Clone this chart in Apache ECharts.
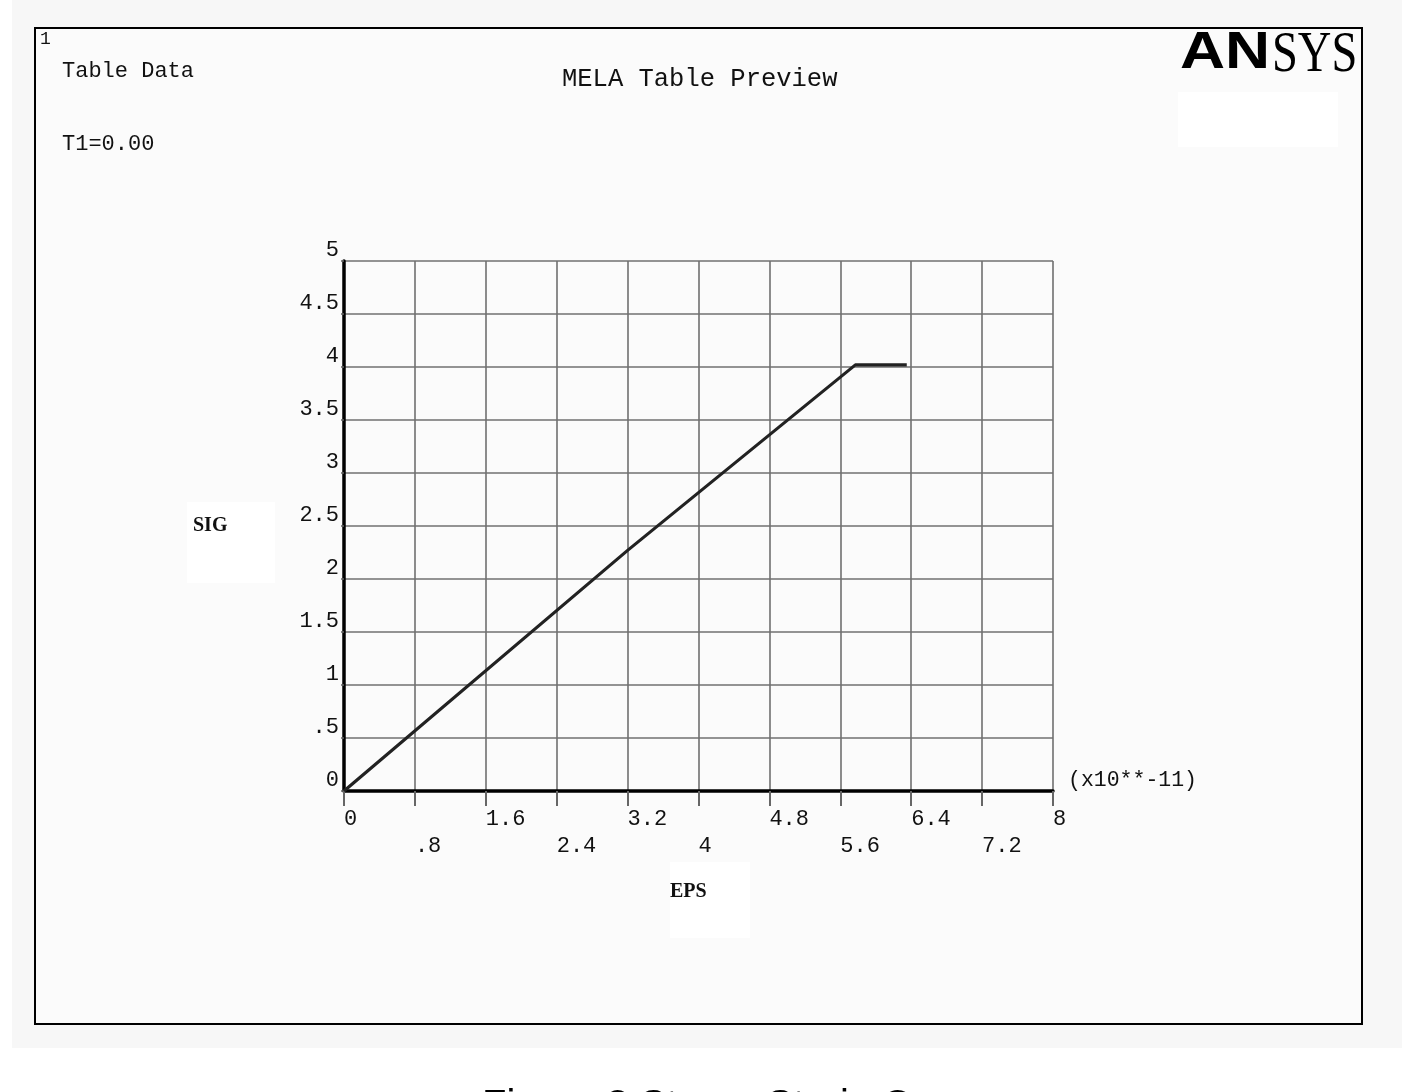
<!DOCTYPE html>
<html>
<head>
<meta charset="utf-8">
<script src="https://cdn.jsdelivr.net/npm/echarts@6/dist/echarts.min.js"></script>
<style>
html,body{margin:0;padding:0;background:#ffffff;}
#c{width:1413px;height:1092px;}
</style>
</head>
<body>
<div id="c"></div>
<script>
// Data (EPS in units of 1e-11)
const epsValues = [0, 3.2, 5.77, 6.35];
const sigValues = [0, 2.27, 4.02, 4.02];
const xTickLabels = ['0', '.8', '1.6', '2.4', '3.2', '4', '4.8', '5.6', '6.4', '7.2', '8'];
const yTickLabels = ['0', '.5', '1', '1.5', '2', '2.5', '3', '3.5', '4', '4.5', '5'];

const chart = echarts.init(document.getElementById('c'), null, {renderer: 'canvas'});
const mono = "'Liberation Mono', 'DejaVu Sans Mono', monospace";
const serif = "'Liberation Serif', 'DejaVu Serif', serif";
const sans = "'Liberation Sans', Arial, sans-serif";

const option = {
  backgroundColor: '#ffffff',
  animation: false,
  graphic: [
    {type: 'rect', z: -10, shape: {x: 12, y: 0, width: 1390, height: 1048}, style: {fill: '#f7f7f7'}},
    {type: 'rect', z: -9, shape: {x: 35, y: 28, width: 1327, height: 996}, style: {fill: '#fbfbfb', stroke: '#000', lineWidth: 2}},
    {type: 'rect', z: -8, shape: {x: 187, y: 502, width: 88, height: 81}, style: {fill: '#ffffff'}},
    {type: 'rect', z: -8, shape: {x: 670, y: 862, width: 80, height: 76}, style: {fill: '#ffffff'}},
    {type: 'rect', z: -8, shape: {x: 1178, y: 92, width: 160, height: 55}, style: {fill: '#ffffff'}},
    {type: 'text', left: 40, top: 30, style: {text: '1', font: '18px ' + mono, fill: '#111'}},
    {type: 'text', left: 62, top: 60, style: {text: 'Table Data', font: '22px ' + mono, fill: '#111'}},
    {type: 'text', left: 62, top: 133, style: {text: 'T1=0.00', font: '22px ' + mono, fill: '#111'}},
    {type: 'text', left: 562, top: 66, style: {text: 'MELA Table Preview', font: '25.5px ' + mono, fill: '#111'}},
    {type: 'text', left: 1068, top: 769, style: {text: '(x10**-11)', font: '21.5px ' + mono, fill: '#111'}},
    {type: 'text', left: 193, top: 516, style: {text: 'SIG', font: 'bold 20px ' + serif, fill: '#111'}},
    {type: 'text', left: 670, top: 882, style: {text: 'EPS', font: 'bold 20px ' + serif, fill: '#111'}},
    {type: 'text', x: 1180, y: 28, scaleX: 1.2, style: {text: 'AN', font: '900 52px ' + sans, fill: '#000', textAlign: 'left', textVerticalAlign: 'top'}},
    {type: 'text', x: 1272, y: 28, scaleX: 0.83, style: {text: 'SYS', font: '56px ' + serif, fill: '#000', textAlign: 'left', textVerticalAlign: 'top'}},
    {type: 'text', left: 482, top: 1087, style: {text: 'Figure 3 Stress-Strain Curve', font: '40px ' + sans, fill: '#000'}}
  ],
  grid: {left: 344, top: 261, right: 360, bottom: 301, containLabel: false},
  xAxis: {
    type: 'value', min: 0, max: 8, interval: 0.8,
    axisLine: {show: true, onZero: false, lineStyle: {color: '#000', width: 3.5}},
    axisTick: {show: true, length: 15, lineStyle: {color: '#666', width: 2}},
    splitLine: {show: true, lineStyle: {color: '#707070', width: 1.6}},
    axisLabel: {
      margin: 15, align: 'left', fontFamily: mono, fontSize: 22, color: '#111', lineHeight: 27,
      showMaxLabel: true, showMinLabel: true,
      formatter: function (v) {
        const i = Math.round(v / 0.8);
        const t = xTickLabels[i];
        return i % 2 ? '\n' + t : t;
      }
    }
  },
  yAxis: {
    type: 'value', min: 0, max: 5, interval: 0.5,
    axisLine: {show: true, onZero: false, lineStyle: {color: '#000', width: 3.5}},
    axisTick: {show: true, length: 3, lineStyle: {color: '#666', width: 1.5}},
    splitLine: {show: true, lineStyle: {color: '#707070', width: 1.6}},
    axisLabel: {
      margin: 5, align: 'right', verticalAlign: 'bottom', fontFamily: mono, fontSize: 22, color: '#111',
      showMaxLabel: true, showMinLabel: true,
      formatter: function (v) { return yTickLabels[Math.round(v / 0.5)]; }
    }
  },
  series: [{
    type: 'line',
    data: epsValues.map((e, i) => [e, sigValues[i]]),
    showSymbol: false,
    lineStyle: {color: '#222', width: 3.2},
    z: 5
  }]
};
chart.setOption(option);
</script>
</body>
</html>
